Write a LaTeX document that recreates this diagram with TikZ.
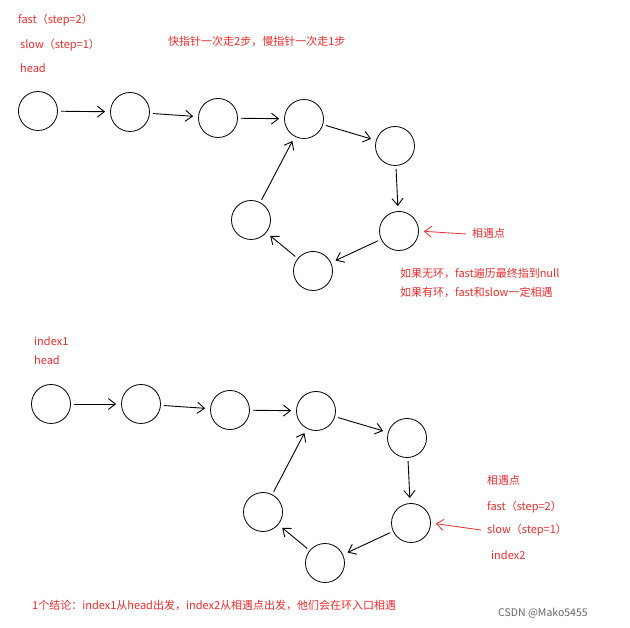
\documentclass[tikz,border=0pt]{standalone}
\usepackage{fontspec}
\setmainfont{Noto Sans CJK SC}
\usetikzlibrary{arrows.meta}
\definecolor{rd}{RGB}{235,45,45}
\tikzset{
 nd/.style={circle,draw=black,line width=0.8pt,minimum size=39pt,inner sep=0pt},
 ar/.style={-{Straight Barb[length=7pt,width=11pt]},line width=0.9pt,shorten <=3pt,shorten >=5pt},
 rar/.style={-{Straight Barb[length=7pt,width=11pt]},line width=0.8pt,draw=rd,shorten >=5pt},
 tx/.style={text=rd,font=\fontsize{11}{12}\selectfont,anchor=west,inner sep=0pt}
}
\begin{document}
\begin{tikzpicture}[x=1pt,y=-1pt]
\useasboundingbox[fill=white] (0,0) rectangle (630,628);
\foreach \n/\x/\y in {A1/38/111,A2/130/112,A3/218/118,A4/304/119,A5/395/146,A6/399/231,A7/313/271,A8/251/220,
 B1/51/404,B2/141/404,B3/230/410,B4/316/411,B5/407/438,B6/411/523,B7/325/563,B8/263/512}
 \node[nd] (\n) at (\x,\y) {};
\foreach \p in {A,B}{
 \draw[ar] (\p1) -- (\p2); \draw[ar] (\p2) -- (\p3); \draw[ar] (\p3) -- (\p4);
 \draw[ar] (\p4) -- (\p5); \draw[ar] (\p5) -- (\p6); \draw[ar] (\p6) -- (\p7);
 \draw[ar] (\p7) -- (\p8); \draw[ar] (\p8) -- (\p4);}
\node[tx] (t1) at (18,20) {fast（step=2）};
\node[tx] (t2) at (20,45) {slow（step=1）};
\node[tx] (t3) at (20,68) {head};
\node[tx] (t4) at (168,41) {快指针一次走2步，慢指针一次走1步};
\node[tx] (m1) at (472,233) {相遇点};
\coordinate (c1) at (466,234);
\draw[rar] (c1) -- (A6.east);
\node[tx] (t5) at (400,273) {如果无环，fast遍历最终指到null};
\node[tx] (t6) at (400,292) {如果有环，fast和slow一定相遇};
\node[tx] (t7) at (34,341) {index1};
\node[tx] (t8) at (34,360) {head};
\node[tx] (m2) at (487,480) {相遇点};
\node[tx] (t9) at (487,507) {fast（step=2）};
\node[tx] (t10) at (487,530) {slow（step=1）};
\node[tx] (t11) at (491,555) {index2};
\coordinate (c2) at (481,530);
\draw[rar] (c2) -- (B6.east);
\node[tx] (t12) at (32,605) {1个结论：index1从head出发，index2从相遇点出发，他们会在环入口相遇};
\node[anchor=west,inner sep=0pt,text=black!60,font=\fontsize{10.5}{12}\selectfont] (w) at (498,613) {CSDN @Mako5455};
\end{tikzpicture}
\end{document}
